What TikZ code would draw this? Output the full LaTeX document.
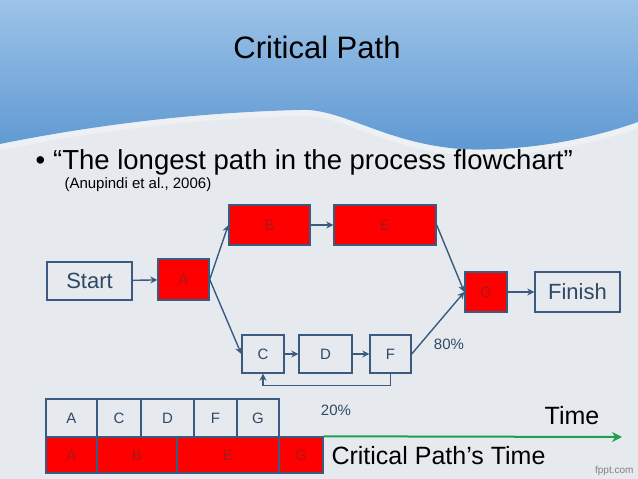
\documentclass[tikz,border=0pt]{standalone}
\usepackage{fontspec}
\setmainfont{Liberation Sans}
\usetikzlibrary{arrows.meta}
\definecolor{bx}{HTML}{3A5A80}
\definecolor{rd}{HTML}{FF0000}
\definecolor{rt}{HTML}{A81818}
\definecolor{bg}{HTML}{E6EAEE}
\definecolor{bl1}{HTML}{9CC3E8}
\definecolor{bl2}{HTML}{5E98D2}
\definecolor{gr}{HTML}{1FA050}
\tikzset{
 box/.style={draw=bx,line width=1.4pt,fill=bg,minimum height=38pt,font=\fontsize{15}{15}\selectfont,text=bx!80!black,inner sep=0pt},
 rbox/.style={draw=bx,line width=1.4pt,fill=rd,minimum height=38pt,font=\fontsize{15}{15}\selectfont,text=rt,inner sep=0pt},
 big/.style={font=\fontsize{25}{25}\selectfont},
 arr/.style={draw=bx,line width=1.4pt,-{Stealth[length=7pt,width=7pt]}},
}
\begin{document}
\begin{tikzpicture}[x=1pt,y=-1pt]
\useasboundingbox (0,0) rectangle (638,479);
\fill[bg] (0,0) rectangle (638,479);
\shade[top color=bl1,bottom color=bl2] (0,0) -- (638,0) -- (638,122) .. controls (560,150) and (480,152) .. (450,148) .. controls (380,140) and (340,108) .. (300,110) .. controls (220,112) and (120,120) .. (0,144) -- cycle;
\fill[white,opacity=0.35] (0,144) .. controls (120,120) and (220,112) .. (300,110) .. controls (340,108) and (380,140) .. (450,148) .. controls (480,152) and (560,150) .. (638,122) -- (638,128) .. controls (560,156) and (480,158) .. (450,154) .. controls (380,146) and (340,114) .. (300,116) .. controls (220,118) and (120,126) .. (0,150) -- cycle;
\node (title) at (317,47) {\fontsize{31}{31}\selectfont Critical Path};
\node[anchor=west] (bullet) at (32,162) {\fontsize{27.5}{27.5}\selectfont •\hspace{8pt}“The longest path in the process flowchart”};
\node[anchor=west] (cite) at (61,185) {\fontsize{15}{15}\selectfont (Anupindi et al., 2006)};
% flowchart
\node[box,minimum width=85pt,font=\fontsize{22}{22}\selectfont] (start) at (89.5,281) {Start};
\node[rbox,minimum width=51pt,minimum height=41pt] (a) at (183.5,279.5) {A};
\node[rbox,minimum width=81pt,minimum height=40pt] (b) at (269.5,225) {B};
\node[rbox,minimum width=102pt,minimum height=40pt] (e) at (385,225) {E};
\node[rbox,minimum width=42pt,minimum height=40pt] (g) at (486,292) {G};
\node[box,minimum width=85pt,minimum height=40pt,font=\fontsize{22}{22}\selectfont] (fin) at (577.5,292) {Finish};
\node[box,minimum width=42pt] (c) at (263,354) {C};
\node[box,minimum width=53pt] (d) at (325.5,354) {D};
\node[box,minimum width=41pt] (f) at (390.5,354) {F};
\draw[arr] (start) -- (a);
\draw[arr] (a.east) -- (b.west);
\draw[arr] (a.east) -- (c.west);
\draw[arr] (b) -- (e);
\draw[arr] (e.east) -- (g.west);
\draw[arr] (f.east) -- (g.west);
\draw[arr] (g) -- (fin);
\draw[arr] (c) -- (d);
\draw[arr] (d) -- (f);
\draw[arr] (f.south) -- ++(0,12) -| (c.south);
\node[text=bx!80!black,font=\fontsize{15}{15}\selectfont] (p80) at (449,344) {80\%};
\node[text=bx!80!black,font=\fontsize{15}{15}\selectfont] (p20) at (336,410) {20\%};
% timeline
\tikzset{tb/.style={box,minimum height=38pt},rb/.style={rbox,minimum height=36pt}}
\node[tb,minimum width=51pt] (t1) at (71.5,418) {A};
\node[tb,minimum width=44pt] (t2) at (119,418) {C};
\node[tb,minimum width=53pt] (t3) at (167.5,418) {D};
\node[tb,minimum width=43pt] (t4) at (215.5,418) {F};
\node[tb,minimum width=42pt] (t5) at (258,418) {G};
\node[rb,minimum width=51pt] (r1) at (71.5,455) {A};
\node[rb,minimum width=80pt] (r2) at (137,455) {B};
\node[rb,minimum width=102pt] (r3) at (228,455) {E};
\node[rb,minimum width=44pt] (r4) at (301,455) {G};
\coordinate (tend) at (622,437);
\draw[gr,line width=2pt,-{Stealth[length=10pt,width=10pt]}] (r4.north east) -- (tend);
\node[big] (time) at (572,416) {Time};
\node[big,anchor=west] (cpt) at (328,456) {Critical Path’s Time};
\node[anchor=east,text=gray,font=\fontsize{10}{10}\selectfont] (fppt) at (637,471) {fppt.com};
\end{tikzpicture}
\end{document}
